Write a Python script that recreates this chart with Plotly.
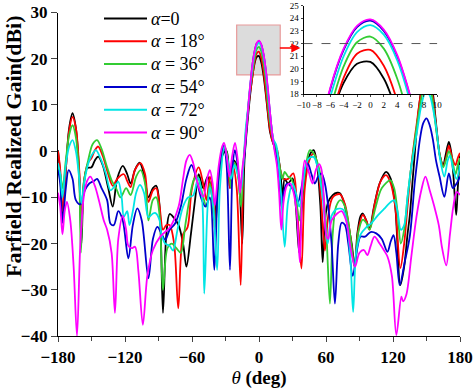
import plotly.graph_objects as go

# ---------------- data ----------------
theta_black = [-180,-178,-176,-173,-170,-167,-164,-161,-159,-157,-154,-150,-147,-144,-140,-135,-131,-127,-122,-118,-115,-111,-107,-103,-99,-95,-92,-89,-86,-83,-80,-76,-72,-68,-65,-61,-57,-54,-50,-46,-43,-40,-36,-32,-29,-26,-23,-20,-17,-15,-13,-10,-8,-6,-4,-2,0,2,4,6,8,10,13,16,19,21,23,26,30,33,36,39,43,46,49,52,55,57,59,62,66,70,72.4,76,80,83,85.8,88,91,93,96,99,103,108,113.8,118,122,126.6,130,133,135,137,139,141,144,147,150,153,156,159,162,165,167,170,172,174,176.6,178,180]
gain_black = [0.2,-5,-14,-4,5,8.2,5,-5,-20,-8,-3.7,-3.5,-2,-1.2,-3,-8,-12,-6,-3.2,-5,-7,-4,-2.5,-5,-10,-8,-7.5,-12,-35,-18,-13.6,-14.5,-16,-20,-25,-18,-10,-5,-8,-5.5,-8,-15,-5,-0.5,0,-8,-2,-3,-10,-20,-2,7,12,16,18.9,20.4,20.55,19.25,16.5,12.5,8,4,1.5,0,-4,-10,-6,-7,-5.9,-12,-22,-10,-3,-0.5,0.2,-3,-12,-24,-15,-11,-9.5,-9,-9.1,-11,-16,-20,-25,-18,-14,-13.5,-15,-16.7,-12,-7,-4.5,-6,-12,-29,-25,-18,-14,-8,-2,4,11,16,18.3,16.5,12,5,-1,-3,-1,2,0,-5,-13.8,-8,-1]

theta_red = [-180,-178,-176,-173,-170,-167,-164,-161,-159,-157,-153,-150,-147,-144,-140,-135,-131,-127,-121,-118,-115,-111,-106,-102,-99,-95,-92,-89,-86,-83,-80,-76,-72.3,-68,-64,-60,-54,-50,-47,-44,-41,-39.6,-36,-33,-30.5,-28,-26,-23,-20,-16.4,-14,-12,-10,-8,-6,-4,-2,0,2,4,6,8,10,13,16,19,22,26,30.7,34,38,41,45,49,53,56,59,62,66,72.4,77,81,85.8,89,93,96,99,104,109,113.8,118,122,126.6,130,133,136,139,141,144,147,150,153,156,159,162,165,168,170,173,176,178,180]
gain_red = [0,-4,-13,-4,4.5,7.4,5,-4,-17,-7,-2.5,-1.5,0.2,1.0,-1,-5,-7.5,-6,-5,-6.5,-7.8,-4,-2.6,-5,-11,-8.5,-8,-12,-17,-16,-16,-20,-34,-18,-16.5,-8,-3.5,-7,-10.6,-5.5,-10,-17,-5,0,1.0,-3,-8,-3.4,-8,-29,-4,3,8,12.5,15.9,19.3,21.2,21.5,20.25,17.5,13.2,8.5,4.5,1.5,0.5,-4,-6,-6,-4.8,-12,-25.4,-8,-2,-0.5,-4,-12,-21.5,-14,-10,-9.3,-11.5,-17,-25,-17,-13.8,-15,-17,-11,-6.5,-5.2,-7,-12,-25.3,-20,-12,-4,2,5.5,11,15,17.4,15.5,11,4.5,-1,-3.2,-1,1.2,-1.5,-3,-1.5,-0.4]

theta_green = [-180,-178,-176,-173,-170,-167,-164,-161,-159.5,-157,-153,-149,-145,-141,-136,-132,-128,-124,-119,-115,-110,-106,-102,-99,-95,-92,-89,-86,-82,-78,-74,-70,-66,-62,-58,-55,-51,-47,-44,-41,-39,-36,-33,-30,-27,-25,-22,-19,-16,-14,-12,-10,-8,-6,-4,-2,0,2,4,6,8,10,13,16,19,21,23,26,29,33,36,39,42,45.6,49,53,57,60,63.5,66,69,73,77,81,85.5,89,93,96,99,104,110,117.7,121,124,127,130,133,136,139,142,145,148,150,153,156,159,162,165,168,170,173,176,178,180]
gain_green = [-3.5,-5,-8,-2,3.5,5.6,3,-6,-22,-7,-2,1.5,2.4,0.5,-3.5,-6.3,-8,-10,-8,-9.5,-5.5,-4.1,-7,-15,-10.5,-10,-14,-30,-21,-20,-21,-22,-16,-10,-6,-5.5,-9,-12,-7,-12,-16,-6,-0.5,0.5,-4,-8,-2.5,-5,-12,-3,3.5,8.5,13.5,16.9,20.2,22.1,22.55,21.6,19.25,15.5,10.5,6,2,0,-4,-6,-4.5,-5.5,-6,-10,-15,-9,-3,0.2,-0.5,-3,-8,-16,-33,-18,-12,-10.6,-12,-17,-25,-17.5,-14.8,-15.5,-17,-12.5,-8,-6.3,-8,-13,-20,-17,-10,-4,1.5,6.5,11,14.5,16.2,14.5,10,4,-1,-3.5,-1.5,0,-2,-5,-3,-1.5]

theta_blue = [-180,-178,-176,-173,-170.5,-167,-164,-160,-156,-152,-148,-145,-141,-136,-133,-130,-126,-122,-117,-113,-109,-105,-99,-95,-91,-87,-84,-80,-75,-70,-65,-60.5,-56,-52,-48,-44,-40,-37,-34,-31.5,-29,-26,-23.5,-21.5,-19,-17,-15,-13,-11,-9,-6,-4,-2,0,2,4,6,8,10,12,14,16,18,20,22,25,28,32,35,38,41,43.8,47,50,53,56,59,62,65,68,71,74,77,80,84,88,91,95,100,105,110,115,118,120.5,123,126,130.5,135,139.4,142,144,147,150,153,155.8,158.5,161.7,166,170,173.6,177,180]
gain_blue = [-4,-7,-15.5,-8,-4.1,-6,-10.6,-11.5,-8.5,-7,-6.5,-6,-8,-10.6,-15.7,-16,-13,-15,-23.2,-16,-12.4,-15,-27.5,-19,-16.4,-18,-19.2,-17,-15.6,-12,-6,-3,-6,-10,-12,-10,-25.7,-8,-1,1.2,-3,-25.7,-3,0.2,-3,-8,-5,-1,5.5,11,18.4,21.5,23.3,23.8,23.0,21.0,17.7,13,8,3.5,0.5,-2,-6,-12,-9,-7,-7.5,-9,-11,-8,-4,-2.7,-5,-7,-5.5,-4.8,-7,-12,-20,-33,-20,-15.5,-16,-20,-27,-21,-18.5,-18.5,-17.5,-17.8,-19,-21.8,-19.5,-18.2,-22,-29,-24,-18.5,-7,-1.5,2.4,6,7.1,5.5,2.4,-2,-5.5,-9.9,-4.8,-8,-7,-5.5]

theta_cyan = [-180,-178,-176,-173,-170,-167,-164,-161,-159,-156,-152,-148,-146,-142,-137,-133,-129,-126,-123,-121,-118,-116,-113,-110,-106.6,-103,-99,-95,-92.6,-89,-87.6,-84,-80,-77,-73,-68,-63.5,-59,-54.5,-51,-49,-46,-44,-41,-37.5,-35,-31,-28,-25,-22,-19,-16,-14,-12,-10,-8,-6,-4,-2,0,2,4,6,8,10,13,15.5,18,20,23,26,30,33,36,39,42,45,49,53,57,61.5,65,70,75.6,79,82,84.3,87,91,96,101,106,112,118,121,124,127,130,133,136,139,142,145,148,150,153,156,159,162,166,169,171,174,177,180]
gain_cyan = [-2.6,-5,-10,-3,1,2.4,0,-6,-11.3,-6,-2,-0.2,0.2,-1.5,-5,-8.5,-7.5,-6.6,-10,-14.2,-13,-16,-13,-9,-7.3,-9,-14.3,-13.5,-13.4,-15,-17.7,-20,-20.5,-21.5,-17,-12,-10,-9.6,-5.8,-10,-30.8,-12,-7.8,-12,-25.7,-8,1.0,-2,-6,-3,-5,-8,-3,4.5,9,14,17.8,21.0,22.9,23.45,22.7,20.7,17.3,12.5,7.5,2.5,1.3,-4,-10,-20.7,-11,-7,-9,-12,-8,-3,-1.5,-1.3,-4,-10,-20,-14,-12.5,-12.7,-16,-24,-34.8,-22,-18,-16.5,-15.5,-14,-12.5,-11,-10.6,-13,-17,-16,-10,-4,0.5,5,9.5,12.3,13.0,12,9,4.5,-1.5,-5.5,-2,-1,-4,-6,-3]

theta_magenta = [-180,-178,-176,-174,-172,-169,-166,-163,-160,-157,-154,-151,-147,-143,-139,-136,-132,-129,-126,-122,-119,-117,-114,-111,-108,-104,-100,-95,-88.5,-79.5,-72,-68,-65,-62,-59,-55,-50,-46,-44,-41.5,-39.6,-36,-33,-31.3,-29,-26.5,-24,-21.5,-19,-17,-15,-13,-11,-9,-6,-4,-2,0,2,4,6,8,10,12,14,16,18,20,22,25,28,31,34,36.6,39,41,44,47.9,51,54,56,58,60,62,65,70,74,78,82,86,90,94,97,100,103.4,108,112,115,119,123,127.5,129,132,136.4,141,145.4,149,152.8,157,161,164,167.7,171,174,177,180]
gain_magenta = [-9,-12,-18,-13,-11,-15,-25,-40,-20,-10,-6.5,-5.5,-7.5,-11,-15,-17,-22,-35,-19,-14,-17,-20.5,-21,-20.7,-26,-37.6,-27,-21.4,-18.5,-16.4,-12,-6,-2,-0.8,-2.5,-7,-9.9,-5.5,-4.1,-7,-11.7,-3,1,1.8,-1,-5.5,-1,1.8,-2,-9,-4,0,5.5,11.5,18.5,21.6,23.4,23.9,23.1,21.1,17.8,13.5,8,3.5,0,-3,-9,-17,-11,-7.5,-7,-9,-14,-24,-6,-2,-4,-7,-4,-2.8,-4,-10,-18,-19,-15,-13.5,-13,-15,-21,-25,-22,-21.4,-22.5,-20.5,-18.5,-20,-21.5,-22.8,-27,-39.8,-31.5,-32.5,-31,-22.8,-14.2,-8.4,-5.5,-8.4,-12,-16,-21,-24.7,-18,-12,-8.8,-9.5]

series_names = ["<i>α</i>=0", "<i>α</i> = 18°", "<i>α</i> = 36°",
                "<i>α</i> = 54°", "<i>α</i> = 72°", "<i>α</i> = 90°"]
series_colors = ["#000000", "#ff0000", "#33cc33", "#0000cc", "#00e5e5", "#ff00ff"]

x_ticks = [-180, -120, -60, 0, 60, 120, 180]
y_ticks = [-40, -30, -20, -10, 0, 10, 20, 30]
inset_x_ticks = [-10, -8, -6, -4, -2, 0, 2, 4, 6, 8, 10]
inset_y_ticks = [18, 19, 20, 21, 22, 23, 24, 25]
ref_level = 22
zoom_box = dict(x0=-20, x1=19, y0=16.5, y1=27.3)

series = [
    (theta_black, gain_black),
    (theta_red, gain_red),
    (theta_green, gain_green),
    (theta_blue, gain_blue),
    (theta_cyan, gain_cyan),
    (theta_magenta, gain_magenta),
]

SERIF = "Liberation Serif, Times New Roman, serif"
W, H = 474, 389
ML, MR, MT, MB = 58, 14, 1, 53
PW, PH = W - ML - MR, H - MT - MB


def px_x(px):
    return (px - ML) / PW


def px_y(py):
    return (H - MB - py) / PH


fig = go.Figure()

for (th, g), name, col in zip(series, series_names, series_colors):
    fig.add_trace(go.Scatter(x=th, y=g, mode="lines", name=name, showlegend=False,
                             line=dict(color=col, width=1.8, shape="spline", smoothing=0.9),
                             xaxis="x", yaxis="y"))
for (th, g), name, col in zip(series, series_names, series_colors):
    fig.add_trace(go.Scatter(x=th, y=g, mode="lines", name=name, showlegend=False,
                             line=dict(color=col, width=1.8, shape="spline", smoothing=0.9),
                             xaxis="x2", yaxis="y2"))

# legend drawn as layout decorations (line sample + label)
for i, (name, col) in enumerate(zip(series_names, series_colors)):
    yy = px_y(18.5 + 22.8 * i)
    fig.add_shape(type="line", xref="paper", yref="paper", x0=px_x(104), x1=px_x(147),
                  y0=yy, y1=yy, line=dict(color=col, width=2))
    fig.add_annotation(xref="paper", yref="paper", x=px_x(149), y=yy, xanchor="left",
                       yanchor="middle", text=name, showarrow=False,
                       font=dict(family=SERIF, size=18, color="black"))

# zoom box in main plot
fig.add_shape(type="rect", xref="x", yref="y", layer="below",
              fillcolor="#dcdcdc", line=dict(color="#e89a9a", width=1.2), **zoom_box)
# dashed reference line in inset
fig.add_shape(type="line", xref="x2", yref="y2", x0=inset_x_ticks[0], x1=inset_x_ticks[-1],
              y0=ref_level, y1=ref_level, line=dict(color="#555555", width=1, dash="dash"))
# arrow from box to inset
fig.add_annotation(xref="x", yref="y", x=37, y=22.3, ax=-22, ay=0, axref="pixel", ayref="pixel",
                   text="", showarrow=True, arrowhead=2, arrowsize=1.2, arrowwidth=1.5,
                   arrowcolor="#ff0000")

# y axis title as annotation (shifted up like the reference)
fig.add_annotation(xref="paper", yref="paper", x=px_x(13), y=px_y(146), xanchor="center",
                   yanchor="middle", text="<b>Farfield Realized Gain(dBi)</b>", textangle=-90,
                   showarrow=False, font=dict(family=SERIF, size=22, color="black"))

fig.update_layout(
    width=W, height=H,
    margin=dict(l=ML, r=MR, t=MT, b=MB, autoexpand=False),
    paper_bgcolor="white", plot_bgcolor="white",
    showlegend=False,
    xaxis=dict(domain=[0, 1], range=[-180, 180], tickvals=x_ticks, ticks="outside", ticklen=5,
               tickwidth=1.2, showline=True, linecolor="black", linewidth=1.3, showgrid=False,
               zeroline=False, automargin=False,
               minor=dict(dtick=30, ticks="outside", ticklen=4, tickwidth=1.2, showgrid=False),
               tickfont=dict(family=SERIF, size=17, color="black", weight="bold"),
               title=dict(text="<i>θ</i> <b>(deg)</b>", font=dict(family=SERIF, size=19, color="black"),
                          standoff=6)),
    yaxis=dict(domain=[0, px_y(12.5)], range=[-40, 30], tickvals=y_ticks, ticks="outside", ticklen=6,
               tickwidth=1.2, showline=True, linecolor="black", linewidth=1.3, showgrid=False,
               zeroline=False, automargin=False,
               tickfont=dict(family=SERIF, size=17, color="black", weight="bold")),
    xaxis2=dict(domain=[px_x(303.5), px_x(437.3)], range=[-10, 10], tickvals=inset_x_ticks, anchor="y2",
                ticks="outside", ticklen=2, tickangle=0, showline=True, linecolor="black", linewidth=1,
                showgrid=False, zeroline=False, automargin=False,
                tickfont=dict(family=SERIF, size=9, color="black")),
    yaxis2=dict(domain=[px_y(94.3), px_y(5.5)], range=[18, 25], tickvals=inset_y_ticks, anchor="x2",
                ticks="outside", ticklen=2, showline=True, linecolor="black", linewidth=1,
                showgrid=False, zeroline=False, automargin=False,
                tickfont=dict(family=SERIF, size=9, color="black")),
)

fig.write_html("out.html", config={"displayModeBar": False},
               post_script="document.body.style.margin='0px';document.body.style.overflow='hidden';")
